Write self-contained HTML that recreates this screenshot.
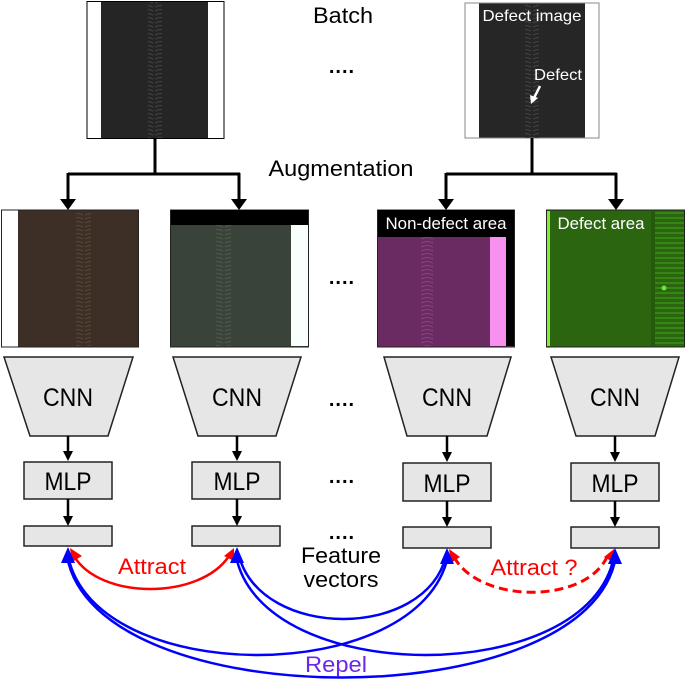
<!DOCTYPE html>
<html><head><meta charset="utf-8"><style>
html,body{margin:0;padding:0;background:#fff;}
svg{display:block;font-family:"Liberation Sans",Arial,sans-serif;}
</style></head><body>
<svg width="685" height="683" viewBox="0 0 685 683" xmlns="http://www.w3.org/2000/svg">
<defs>
<pattern id="zip" width="14" height="4" patternUnits="userSpaceOnUse">
<path d="M1,3 Q7,0 13,3" stroke="#444" stroke-width="1" fill="none"/>
</pattern>
<pattern id="zipb" width="14" height="4" patternUnits="userSpaceOnUse">
<path d="M1,3 Q7,0 13,3" stroke="#5a4638" stroke-width="1" fill="none"/>
</pattern>
<pattern id="zipg" width="14" height="4" patternUnits="userSpaceOnUse">
<path d="M1,3 Q7,0 13,3" stroke="#4f5a4c" stroke-width="1" fill="none"/>
</pattern>
<pattern id="zipm" width="14" height="4" patternUnits="userSpaceOnUse">
<path d="M1,3 Q7,0 13,3" stroke="#8a4080" stroke-width="1" fill="none"/>
</pattern>
<pattern id="zipgr" width="14" height="5" patternUnits="userSpaceOnUse">
<path d="M0,3 L14,3" stroke="#3a9018" stroke-width="1.5" fill="none"/>
</pattern>
</defs>

<rect x="87" y="1.5" width="137" height="137" fill="#fff" stroke="#000" stroke-width="1"/>
<rect x="101" y="2" width="107" height="136" fill="#252525"/>
<rect x="148" y="2" width="14" height="136" fill="url(#zip)"/>
<rect x="465" y="3" width="134" height="135" fill="#fff" stroke="#888" stroke-width="1"/>
<rect x="479" y="3.5" width="106" height="134" fill="#262626"/>
<rect x="525" y="4" width="14" height="134" fill="url(#zip)"/>
<text x="532" y="21" font-size="16" fill="#fff" text-anchor="middle" textLength="99" lengthAdjust="spacingAndGlyphs">Defect image</text>
<text x="558" y="80" font-size="16" fill="#fff" text-anchor="middle" textLength="48" lengthAdjust="spacingAndGlyphs">Defect</text>
<path d="M540,86 L534,98" stroke="#fff" stroke-width="2.5"/>
<polygon points="531,104 530,95 538,98" fill="#fff"/>

<text x="343" y="23" font-size="22" text-anchor="middle" textLength="60" lengthAdjust="spacingAndGlyphs">Batch</text>
<text x="342" y="73" font-size="20" text-anchor="middle" font-weight="bold" letter-spacing="1">....</text>
<text x="341" y="176" font-size="22" text-anchor="middle" textLength="145" lengthAdjust="spacingAndGlyphs">Augmentation</text>

<g stroke="#000" stroke-width="3" fill="none">
<path d="M155,139 V174 M68,174 H240 M68,173 V200 M239,173 V200"/>
<path d="M532,138 V174 M446,174 H617 M446,173 V200 M616,173 V200"/>
</g>
<g fill="#000">
<polygon points="60,199 76,199 68,210"/>
<polygon points="231,199 247,199 239,210"/>
<polygon points="438,199 454,199 446,210"/>
<polygon points="608,199 624,199 616,210"/>
</g>

<rect x="1.5" y="210" width="137" height="137" fill="#3d2f26" stroke="#222"/>
<rect x="2" y="210.5" width="16" height="136" fill="#fff"/>
<rect x="76" y="211" width="15" height="135" fill="url(#zipb)"/>

<rect x="170.5" y="210" width="138" height="137" fill="#3a4339" stroke="#222"/>
<rect x="171" y="210" width="137" height="15" fill="#000"/>
<rect x="291" y="225" width="17" height="121" fill="#f8fffc"/>
<rect x="216" y="225" width="15" height="121" fill="url(#zipg)"/>

<rect x="377.5" y="210" width="137" height="137" fill="#6a2a62" stroke="#222"/>
<rect x="378" y="210" width="136" height="27" fill="#000"/>
<rect x="490" y="237" width="16" height="109" fill="#f890f0"/>
<rect x="506" y="237" width="8" height="109" fill="#000"/>
<rect x="420" y="237" width="14" height="109" fill="url(#zipm)"/>
<text x="446" y="229" font-size="17" fill="#fff" text-anchor="middle" textLength="121" lengthAdjust="spacingAndGlyphs">Non-defect area</text>

<rect x="546.5" y="210" width="138" height="137" fill="#2c6510" stroke="#222"/>
<rect x="547" y="211" width="3" height="135" fill="#7ef030"/>
<rect x="652" y="211" width="32" height="135" fill="url(#zipgr)"/>
<rect x="651" y="211" width="4" height="135" fill="#245a0c"/>
<circle cx="664" cy="288" r="2.5" fill="#6fe23a"/>
<text x="601" y="229" font-size="17" fill="#fff" text-anchor="middle" textLength="87" lengthAdjust="spacingAndGlyphs">Defect area</text>

<text x="342" y="284" font-size="20" text-anchor="middle" font-weight="bold" letter-spacing="1">....</text>

<g fill="#e6e6e6" stroke="#222" stroke-width="1.5">
<polygon points="4,357 133,357 108,436 30,436"/>
<polygon points="173,357 301,357 276,436 198,436"/>
<polygon points="384,357 511,357 487,436 407,436"/>
<polygon points="551,357 679,357 655,436 576,436"/>
<rect x="24" y="462" width="88" height="37"/>
<rect x="192" y="462" width="88" height="37"/>
<rect x="403" y="463" width="88" height="38"/>
<rect x="571" y="463" width="88" height="38"/>
<rect x="24" y="526" width="88" height="20"/>
<rect x="192" y="526" width="88" height="20"/>
<rect x="403" y="527" width="88" height="21"/>
<rect x="571" y="527" width="88" height="21"/>
</g>
<g font-size="25" text-anchor="middle">
<text x="68" y="406" textLength="50" lengthAdjust="spacingAndGlyphs">CNN</text>
<text x="237" y="406" textLength="50" lengthAdjust="spacingAndGlyphs">CNN</text>
<text x="447" y="406" textLength="50" lengthAdjust="spacingAndGlyphs">CNN</text>
<text x="615" y="406" textLength="50" lengthAdjust="spacingAndGlyphs">CNN</text>
<text x="68" y="490" textLength="47" lengthAdjust="spacingAndGlyphs">MLP</text>
<text x="237" y="490" textLength="47" lengthAdjust="spacingAndGlyphs">MLP</text>
<text x="447" y="492" textLength="47" lengthAdjust="spacingAndGlyphs">MLP</text>
<text x="615" y="492" textLength="47" lengthAdjust="spacingAndGlyphs">MLP</text>
</g>
<g stroke="#000" stroke-width="2.5">
<path d="M68,436 V452 M237,436 V452 M447,436 V453 M615,436 V453"/>
<path d="M68,499 V517 M237,499 V517 M447,501 V518 M615,501 V518"/>
</g>
<g fill="#000">
<polygon points="63,451 73,451 68,461"/><polygon points="232,451 242,451 237,461"/>
<polygon points="442,452 452,452 447,462"/><polygon points="610,452 620,452 615,462"/>
<polygon points="63,516 73,516 68,526"/><polygon points="232,516 242,516 237,526"/>
<polygon points="442,517 452,517 447,527"/><polygon points="610,517 620,517 615,527"/>
</g>
<g font-size="20" text-anchor="middle" font-weight="bold" letter-spacing="1">
<text x="342" y="406">....</text><text x="342" y="483">....</text><text x="342" y="539">....</text>
</g>
<text x="341" y="563" font-size="22" text-anchor="middle" textLength="80" lengthAdjust="spacingAndGlyphs">Feature</text>
<text x="341" y="587" font-size="22" text-anchor="middle" textLength="75" lengthAdjust="spacingAndGlyphs">vectors</text>

<path d="M74,556 C100,600 200,600 229,556" stroke="#f00" stroke-width="2.5" fill="none"/>
<path d="M454,557 C480,604 585,604 607,557" stroke="#f00" stroke-width="3" fill="none" stroke-dasharray="9,5"/>
<g fill="#f00">
<polygon points="70,548 82,556 72,562"/>
<polygon points="234,548 234,561 224,556"/>
<polygon points="449,549 460,557 451,563"/>
<polygon points="614,549 613,562 604,557"/>
</g>
<text x="152" y="574" font-size="22" fill="#f00" text-anchor="middle" textLength="68" lengthAdjust="spacingAndGlyphs">Attract</text>
<text x="534" y="575" font-size="22" fill="#f00" text-anchor="middle" textLength="87" lengthAdjust="spacingAndGlyphs">Attract ?</text>

<g stroke="#00f" stroke-width="2.5" fill="none">
<path d="M239,556 C262,640 425,640 446,556"/>
<path d="M236,556 C262,688 590,688 614,556"/>
<path d="M68,556 C95,688 420,688 448,556"/>
<path d="M67,556 C95,718 590,718 616,556"/>
</g>
<g fill="#00f">
<polygon points="68,547 61,563 75,563"/>
<polygon points="237,547 230,563 244,563"/>
<polygon points="447,548 440,564 454,564"/>
<polygon points="615,548 608,564 622,564"/>
</g>
<text x="336" y="672" font-size="22" fill="#6a28e8" text-anchor="middle" textLength="62" lengthAdjust="spacingAndGlyphs">Repel</text>
</svg>
</body></html>
